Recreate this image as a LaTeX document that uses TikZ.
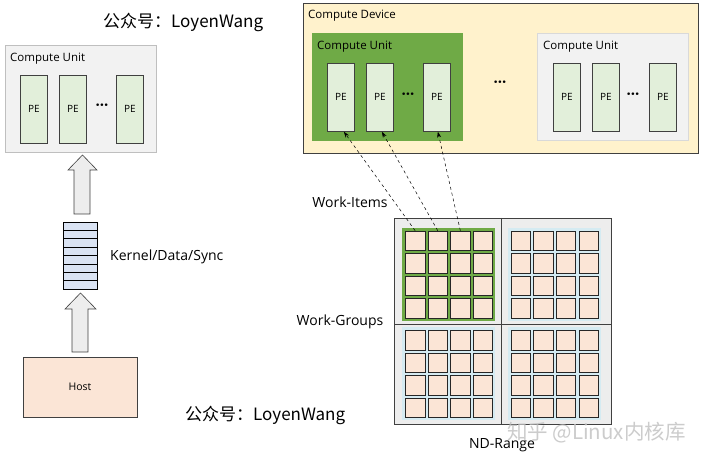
\documentclass[tikz,border=0pt]{standalone}
\usepackage{fontspec}
\setmainfont{Open Sans}
\newfontfamily\cjk{Noto Sans CJK SC}
\usetikzlibrary{arrows.meta}
\definecolor{cugray}{HTML}{F2F2F2}
\definecolor{cuborder}{HTML}{BFBFBF}
\definecolor{pefill}{HTML}{E2EFDA}
\definecolor{dkline}{HTML}{404040}
\definecolor{qfill}{HTML}{DAE3F3}
\definecolor{arrfill}{HTML}{EDEDED}
\definecolor{hostfill}{HTML}{FBE5D6}
\definecolor{devfill}{HTML}{FFF2CC}
\definecolor{cugreen}{HTML}{6FAA46}
\definecolor{wgblue}{HTML}{D5EBF2}
\definecolor{ndfill}{HTML}{EDEDED}
\definecolor{wmgray}{HTML}{BFBFBF}
\tikzset{
  box/.style={draw=#1, anchor=north west, inner sep=0pt},
  pebox/.style={draw=dkline, fill=pefill, anchor=north west, minimum width=27pt, minimum height=68pt, inner sep=0pt, font=\fontsize{10}{10}\selectfont, line width=0.7pt},
  cutitle/.style={anchor=west, inner sep=0pt, font=\fontsize{11.5}{13}\selectfont},
  dotsnode/.style={inner sep=0pt, font=\fontsize{15}{15}\selectfont\bfseries},
  blockarrow/.style={draw=dkline, fill=arrfill, line width=0.6pt},
  cellbox/.style={draw=black!85, fill=hostfill, anchor=north west, minimum width=19.5pt, minimum height=19.5pt, inner sep=0pt, line width=0.8pt},
  lbl/.style={inner sep=0pt, font=\fontsize{14}{16}\selectfont},
  wm/.style={inner sep=0pt, font=\cjk\fontsize{17}{19}\selectfont},
  dasharrow/.style={dashed, line width=0.5pt, -{Stealth[length=6pt,width=4pt]}}
}
\begin{document}
\begin{tikzpicture}[x=1pt,y=-1pt]
\useasboundingbox (0,0) rectangle (704,462);
% watermarks
\node[wm, anchor=west] (wm1) at (103,22) {公众号：LoyenWang};
\node[wm, anchor=west] (wm2) at (185,415) {公众号：LoyenWang};
% left compute unit
\node[box=cuborder, fill=cugray, minimum width=151pt, minimum height=107pt] (lcu) at (5,45) {};
\node[cutitle] (lcut) at (10,59) {Compute Unit};
\node[pebox] (lpe1) at (20,75) {PE};
\node[pebox] (lpe2) at (59,75) {PE};
\node[pebox] (lpe3) at (116,75) {PE};
\node[dotsnode] (ldots) at (102,107) {···};
% block arrow 1
\draw[blockarrow] (74,214) -- (74,170) -- (68,170) -- (82.5,155) -- (97,170) -- (90,170) -- (90,214) -- cycle;
% queue
\node[box=black, fill=qfill, minimum width=34pt, minimum height=67pt, line width=0.6pt] (queue) at (63,222) {};
\foreach \k in {1,...,7} {\draw[line width=0.6pt] (63,222+8.375*\k) -- (97,222+8.375*\k);}
\node[lbl, anchor=west] (qlbl) at (110,257) {Kernel/Data/Sync};
% block arrow 2
\draw[blockarrow] (72,352) -- (72,309) -- (65,309) -- (80.5,293) -- (96,309) -- (88,309) -- (88,352) -- cycle;
% host
\node[box=dkline, fill=hostfill, minimum width=114pt, minimum height=60pt, line width=0.7pt] (host) at (23,357) {};
\node[inner sep=0pt, font=\fontsize{10.5}{12}\selectfont] (hostt) at (80,387) {Host};
% compute device
\node[box=dkline, fill=devfill, minimum width=395pt, minimum height=150pt, line width=0.8pt] (dev) at (303,3) {};
\node[cutitle] (devt) at (308,16) {Compute Device};
\node[box=cugreen, fill=cugreen, minimum width=150pt, minimum height=107pt] (gcu) at (312,33) {};
\node[cutitle] (gcut) at (317,47) {Compute Unit};
\node[pebox] (gpe1) at (327,63) {PE};
\node[pebox] (gpe2) at (366,63) {PE};
\node[pebox] (gpe3) at (423,63) {PE};
\node[dotsnode] (gdots) at (408,96) {···};
\node[dotsnode] (mdots) at (500,84) {···};
\node[box=cuborder!60, fill=cugray, minimum width=151pt, minimum height=107pt] (rcu) at (537,33) {};
\node[cutitle] (rcut) at (543,47) {Compute Unit};
\node[pebox] (rpe1) at (553,63) {PE};
\node[pebox] (rpe2) at (592,63) {PE};
\node[pebox] (rpe3) at (649,63) {PE};
\node[dotsnode] (rdots) at (633,96) {···};
% ND range
\node[box=dkline, fill=ndfill, minimum width=217pt, minimum height=206pt, line width=0.8pt] (nd) at (394,218) {};
\draw[dkline, line width=0.8pt] (501,218) -- (501,424);
\draw[dkline, line width=0.8pt] (394,324) -- (611,324);
% work group backgrounds
\fill[cugreen] (402,228) rectangle (495,320.5);
\fill[wgblue] (507.7,228) rectangle (600.7,320.5);
\fill[wgblue] (402,327.3) rectangle (495,419.8);
\fill[wgblue] (507.7,327.3) rectangle (600.7,419.8);
% cells
\foreach \g/\ox/\oy in {1/405/230.7, 2/510.7/230.7, 3/405/330, 4/510.7/330} {
  \foreach \i in {0,...,3} {
    \foreach \j in {0,...,3} {
      \node[cellbox] (c-\g-\i-\j) at ({\ox+22.6*\i},{\oy+22.6*\j}) {};
    }
  }
}
\node[lbl] (wi) at (350,202) {Work-Items};
\node[lbl] (wg) at (340,322) {Work-Groups};
\node[wm, text=wmgray, opacity=0.8, anchor=west, font=\cjk\fontsize{20.5}{22}\selectfont] (wm3) at (507,433) {知乎 @Linux内核库};
\node[lbl] (ndl) at (502,445) {ND-Range};
% dashed arrows
\draw[dasharrow] (c-1-0-0.north) -- ([xshift=3pt]gpe1.south);
\draw[dasharrow] (c-1-1-0.north) -- ([xshift=2pt]gpe2.south);
\draw[dasharrow] (c-1-2-0.north) -- ([xshift=1pt]gpe3.south);
\end{tikzpicture}
\end{document}
